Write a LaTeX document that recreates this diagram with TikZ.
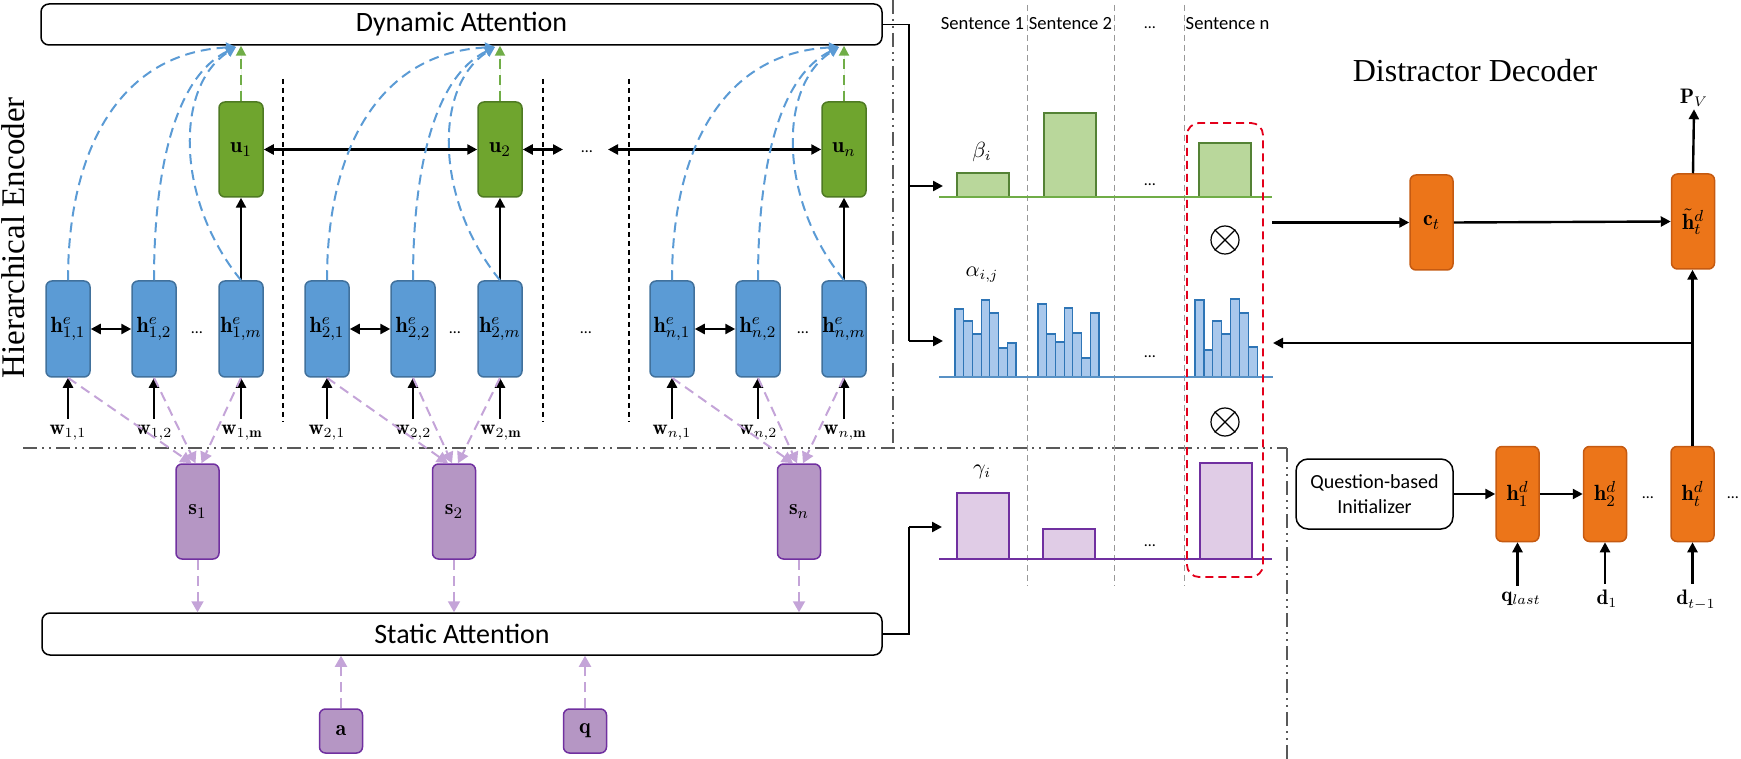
\documentclass[tikz,border=0pt]{standalone}
\usepackage{fontspec}
\newfontfamily\carlito{Carlito}
\newfontfamily\tnr{Liberation Serif}
\usetikzlibrary{arrows.meta,calc}
\definecolor{bfill}{HTML}{5B9BD5}
\definecolor{bline}{HTML}{41719C}
\definecolor{gfill}{HTML}{6FA52E}
\definecolor{gline}{HTML}{4E7A23}
\definecolor{pfill}{HTML}{B596C4}
\definecolor{pline}{HTML}{7030A0}
\definecolor{ofill}{HTML}{EC7519}
\definecolor{oline}{HTML}{C55A11}
\definecolor{bdashc}{HTML}{5B9BD5}
\definecolor{pdashc}{HTML}{C4A4D8}
\definecolor{gdashc}{HTML}{70AD47}
\definecolor{gbarf}{HTML}{B9D79B}
\definecolor{gbarl}{HTML}{548235}
\definecolor{bbarf}{HTML}{A9C8EC}
\definecolor{bbarl}{HTML}{2E75B6}
\definecolor{pbarf}{HTML}{E0CCE6}
\definecolor{redbox}{HTML}{E3001B}
\begin{document}
\begin{tikzpicture}[x=0.5pt,y=-0.5pt,
  cell/.style={draw, rounded corners=3pt, line width=0.75pt, minimum width=22pt, minimum height=48pt, inner sep=0pt, font=\fontsize{11}{13}\selectfont},
  hbox/.style={cell, fill=bfill, draw=bline},
  ubox/.style={cell, fill=gfill, draw=gline, minimum height=47.5pt},
  sbox/.style={cell, fill=pfill, draw=pline, minimum width=21.5pt, minimum height=47.5pt},
  obox/.style={cell, fill=ofill, draw=oline, minimum width=21.5pt, minimum height=47.5pt},
  att/.style={draw, rounded corners=4pt, line width=0.75pt, inner sep=0pt, font=\carlito\fontsize{14}{16}\selectfont},
  qbistyle/.style={draw, rounded corners=6pt, line width=0.75pt, inner sep=0pt, align=center, minimum width=78.5pt, minimum height=35pt, font=\carlito\fontsize{10}{12.5}\selectfont},
  arr/.style={-{Triangle[length=5pt,width=5pt]}, line width=1.2pt},
  darr/.style={{Triangle[length=5pt,width=5pt]}-{Triangle[length=5pt,width=5pt]}, line width=1.2pt},
  connl/.style={line width=0.7pt},
  bdash/.style={-{Triangle[length=5pt,width=5pt]}, draw=bdashc, dash pattern=on 5pt off 3pt, line width=1pt},
  gdash/.style={-{Triangle[length=5pt,width=5pt]}, draw=gdashc, fill=gdashc, dash pattern=on 5pt off 3pt, line width=1pt},
  pdash/.style={-{Triangle[length=5.5pt,width=6pt]}, draw=pdashc, dash pattern=on 5pt off 3pt, line width=1pt},
  lab/.style={inner sep=1pt, font=\fontsize{10.5}{12}\selectfont},
  greek/.style={inner sep=1pt, font=\fontsize{10.5}{12}\selectfont},
  dotsn/.style={inner sep=0pt, font=\carlito\fontsize{8}{9}\selectfont},
  sentl/.style={inner sep=0pt, font=\carlito\fontsize{9.3}{11}\selectfont},
  sepd/.style={line width=0.6pt, dash pattern=on 2.5pt off 2pt},
  ddot/.style={draw=black!65, line width=0.8pt, dash pattern=on 7pt off 2.5pt on 1pt off 2.5pt on 1pt off 2.5pt},
  sentsep/.style={draw=black!40, line width=0.5pt, dash pattern=on 3pt off 2pt},
  gbar/.style={fill=gbarf, draw=gbarl, line width=0.7pt},
  bbar/.style={fill=bbarf, draw=bbarl, line width=0.6pt},
  pbar/.style={fill=pbarf, draw=pline, line width=0.7pt},
]
\useasboundingbox (0,0) rectangle (1741,759);

% ---------- separators ----------
\draw[ddot] (893,0) -- (893,448);
\draw[ddot] (23,448) -- (1287,448);
\draw[ddot] (1287,448) -- (1287,759);
\draw[sepd] (283,79) -- (283,422);
\draw[sepd] (543,79) -- (543,422);
\draw[sepd] (629,79) -- (629,422);
\draw[sentsep] (1027,5) -- (1027,586);
\draw[sentsep] (1114,5) -- (1114,586);
\draw[sentsep] (1184,5) -- (1184,586);

% ---------- titles ----------
\node[rotate=90, inner sep=0pt, font=\tnr\fontsize{16.5}{18}\selectfont] (hetitle) at (13,238) {Hierarchical Encoder};
\node[inner sep=0pt, font=\tnr\fontsize{16}{18}\selectfont] (ddtitle) at (1475,71) {Distractor Decoder};

% ---------- attention boxes ----------
\node[att, minimum width=420.5pt, minimum height=20.5pt] (dyn) at (461.5,24.5) {Dynamic Attention};
\node[att, minimum width=420pt, minimum height=21pt] (sta) at (462,634) {Static Attention};

% ---------- encoder word-level ----------
\node[hbox] (h11) at (68,329) {$\mathbf{h}^{e}_{1,1}$};
\node[hbox] (h12) at (154,329) {$\mathbf{h}^{e}_{1,2}$};
\node[hbox] (h1m) at (241,329) {$\mathbf{h}^{e}_{1,m}$};
\node[hbox] (h21) at (327,329) {$\mathbf{h}^{e}_{2,1}$};
\node[hbox] (h22) at (413,329) {$\mathbf{h}^{e}_{2,2}$};
\node[hbox] (h2m) at (500,329) {$\mathbf{h}^{e}_{2,m}$};
\node[hbox] (hn1) at (672,329) {$\mathbf{h}^{e}_{n,1}$};
\node[hbox] (hn2) at (758,329) {$\mathbf{h}^{e}_{n,2}$};
\node[hbox] (hnm) at (844,329) {$\mathbf{h}^{e}_{n,m}$};

\node[ubox] (u1) at (241,149.5) {$\mathbf{u}_1$};
\node[ubox] (u2) at (500,149.5) {$\mathbf{u}_2$};
\node[ubox] (un) at (844,149.5) {$\mathbf{u}_n$};

\node[sbox] (s1) at (197.5,511.5) {$\mathbf{s}_1$};
\node[sbox] (s2) at (454,511.5) {$\mathbf{s}_2$};
\node[sbox] (sn) at (799,511.5) {$\mathbf{s}_n$};

\node[sbox, minimum height=22pt] (a) at (341,731) {$\mathbf{a}$};
\node[sbox, minimum height=22pt] (q) at (585,731) {$\mathbf{q}$};

% word labels
\node[lab] (w11) at (68,433) {$\mathbf{w}_{1,1}$};
\node[lab] (w12) at (154,433) {$\mathbf{w}_{1,2}$};
\node[lab] (w1m) at (242,433) {$\mathbf{w}_{1,\mathbf{m}}$};
\node[lab] (w21) at (327,433) {$\mathbf{w}_{2,1}$};
\node[lab] (w22) at (413,433) {$\mathbf{w}_{2,2}$};
\node[lab] (w2m) at (501,433) {$\mathbf{w}_{2,\mathbf{m}}$};
\node[lab] (wn1) at (672,433) {$\mathbf{w}_{n,1}$};
\node[lab] (wn2) at (758,433) {$\mathbf{w}_{n,2}$};
\node[lab] (wnm) at (845,433) {$\mathbf{w}_{n,\mathbf{m}}$};

\foreach \w/\h in {w11/h11,w12/h12,w1m/h1m,w21/h21,w22/h22,w2m/h2m,wn1/hn1,wn2/hn2,wnm/hnm}
  \draw[arr, shorten <=2pt] (\h.south |- \w.north) -- (\h.south);

% dots
\node[dotsn] (dd1) at (197,333) {…};
\node[dotsn] (dd2) at (455,333) {…};
\node[dotsn] (ddm) at (586,333) {…};
\node[dotsn] (dd3) at (803,333) {…};
\node[dotsn] (du) at (587,152) {…};

% horizontal arrows
\draw[darr] (h11.east) -- (h12.west);
\draw[darr] (h21.east) -- (h22.west);
\draw[darr] (hn1.east) -- (hn2.west);
\coordinate (ue) at (563,149.5);
\coordinate (us) at (608,149.5);
\draw[darr] (u1.east) -- (u2.west);
\draw[darr] (u2.east) -- (ue);
\draw[darr] (us) -- (un.west);

% h_m -> u
\draw[arr] (h1m.north) -- (u1.south);
\draw[arr] (h2m.north) -- (u2.south);
\draw[arr] (hnm.north) -- (un.south);

% green dashed u -> dynamic attention
\draw[gdash] (u1.north) -- (u1.north |- dyn.south);
\draw[gdash] (u2.north) -- (u2.north |- dyn.south);
\draw[gdash] (un.north) -- (un.north |- dyn.south);

% blue dashed curves
\coordinate (b1) at (236,47);
\coordinate (b2) at (495,47);
\coordinate (b3) at (839,47);
\foreach \x/\y/\z/\t in {h11/h12/h1m/b1, h21/h22/h2m/b2, hn1/hn2/hnm/b3}{
  \draw[bdash] (\x.north) .. controls +(0,-131) and +(-116,6) .. (\t);
  \draw[bdash] (\y.north) .. controls +(0,-111) and +(-61,30) .. (\t);
  \draw[bdash] (\z.north) .. controls +(-66,-81) and +(-61,39) .. (\t);
}

% purple dashed h -> s
\foreach \x/\y/\z/\s in {h11/h12/h1m/s1, h21/h22/h2m/s2, hn1/hn2/hnm/sn}{
  \draw[pdash] (\x.south) -- ($(\s.north)+(-6,0)$);
  \draw[pdash] (\y.south) -- ($(\s.north)+(-2,0)$);
  \draw[pdash] (\z.south) -- ($(\s.north)+(4,0)$);
}
% s -> static
\draw[pdash] (s1.south) -- (s1.south |- sta.north);
\draw[pdash] (s2.south) -- (s2.south |- sta.north);
\draw[pdash] (sn.south) -- (sn.south |- sta.north);
\draw[pdash] (a.north) -- (a.north |- sta.south);
\draw[pdash] (q.north) -- (q.north |- sta.south);

% ---------- charts ----------
\node[sentl] (sen1) at (982.5,24) {Sentence 1};
\node[sentl] (sen2) at (1070.5,24) {Sentence 2};
\node[dotsn] (send) at (1150,28) {…};
\node[sentl] (senn) at (1227.5,24) {Sentence n};

\node[greek] (beta) at (982,152) {$\beta_i$};
\node[greek] (alpha) at (982,275) {$\alpha_{i,j}$};
\node[greek] (gamma) at (982,472) {$\gamma_i$};

\draw[gbar] (957,197) rectangle (1009,173);
\draw[gbar] (1044,197) rectangle (1096,113);
\draw[gbar] (1199,197) rectangle (1251,143);
\draw[gdashc, line width=0.7pt] (939,197) -- (1272,197);

\foreach \t [count=\i from 0] in {309,321,334,300,313,348,343}
  \draw[bbar] ({955+\i*8.7},377) rectangle ({955+(\i+1)*8.7},\t);
\foreach \t [count=\i from 0] in {304,334,342,308,333,358,313}
  \draw[bbar] ({1038+\i*8.7},377) rectangle ({1038+(\i+1)*8.7},\t);
\foreach \t [count=\i from 0] in {300,350,321,334,299,313,347}
  \draw[bbar] ({1195+\i*8.9},377) rectangle ({1195+(\i+1)*8.9},\t);
\draw[bbarl!80!white, line width=0.7pt] (939,377) -- (1273,377);

\draw[pbar] (957,559) rectangle (1009,493);
\draw[pbar] (1043,559) rectangle (1095,529);
\draw[pbar] (1200,559) rectangle (1252,463);
\draw[pline, line width=0.8pt] (939,559) -- (1272,559);

\node[dotsn] (cd1) at (1150,185) {…};
\node[dotsn] (cd2) at (1150,357) {…};
\node[dotsn] (cd3) at (1150,546) {…};

\node[circle, draw, line width=0.6pt, minimum size=14pt, inner sep=0pt] (ot1) at (1225,240) {};
\draw[line width=0.6pt] (ot1.north west) -- (ot1.south east) (ot1.north east) -- (ot1.south west);
\node[circle, draw, line width=0.6pt, minimum size=14pt, inner sep=0pt] (ot2) at (1225,422) {};
\draw[line width=0.6pt] (ot2.north west) -- (ot2.south east) (ot2.north east) -- (ot2.south west);

\draw[redbox, line width=0.9pt, dash pattern=on 4pt off 2.5pt, rounded corners=6pt] (1187,123) rectangle (1263,577);

% connectors attention -> charts
\coordinate (betain) at (943,186);
\coordinate (alphain) at (943,341);
\coordinate (gammain) at (942,527);
\coordinate (jd) at (909,341);
\coordinate (js) at (909,527);
\draw[connl] (dyn.east) -| (jd);
\draw[arr] (jd) -- (alphain);
\draw[arr] (jd |- betain) -- (betain);
\draw[connl] (sta.east) -| (js);
\draw[arr] (js) -- (gammain);

% ---------- decoder ----------
\node[obox] (ct) at (1431.5,222.5) {$\mathbf{c}_t$};
\node[obox] (htl) at (1693,221.5) {$\tilde{\mathbf{h}}^{d}_{t}$};
\node[obox] (hd1) at (1517.5,494) {$\mathbf{h}^{d}_{1}$};
\node[obox] (hd2) at (1605,494) {$\mathbf{h}^{d}_{2}$};
\node[obox] (hdt) at (1692.5,494) {$\mathbf{h}^{d}_{t}$};
\node[qbistyle] (qbi) at (1374.5,494) {Question-based\\Initializer};
\node[dotsn] (ddd1) at (1648,498) {…};
\node[dotsn] (ddd2) at (1733,498) {…};

\coordinate (cin) at (1272,222.5);
\draw[arr] (cin) -- (ct.west);
\draw[arr] (ct.east) -- (htl.west);
\node[lab] (pv) at (1694,98) {$\mathbf{P}_V$};
\draw[arr] (htl.north) -- (pv.south);
\draw[arr] (hdt.north) -- (hdt.north |- htl.south);
\coordinate (fbk) at (1273,343);
\draw[arr] (hdt.north |- fbk) -- (fbk);
\draw[arr] (qbi.east) -- (hd1.west);
\draw[arr] (hd1.east) -- (hd2.west);

\node[lab] (ql) at (1521,599) {$\mathbf{q}_{last}$};
\node[lab] (dd) at (1607,599) {$\mathbf{d}_1$};
\node[lab] (dtm) at (1696,600) {$\mathbf{d}_{t-1}$};
\draw[arr, shorten <=2pt] (hd1.south |- ql.north) -- (hd1.south);
\draw[arr, shorten <=2pt] (hd2.south |- dd.north) -- (hd2.south);
\draw[arr, shorten <=2pt] (hdt.south |- dtm.north) -- (hdt.south);
\end{tikzpicture}
\end{document}
